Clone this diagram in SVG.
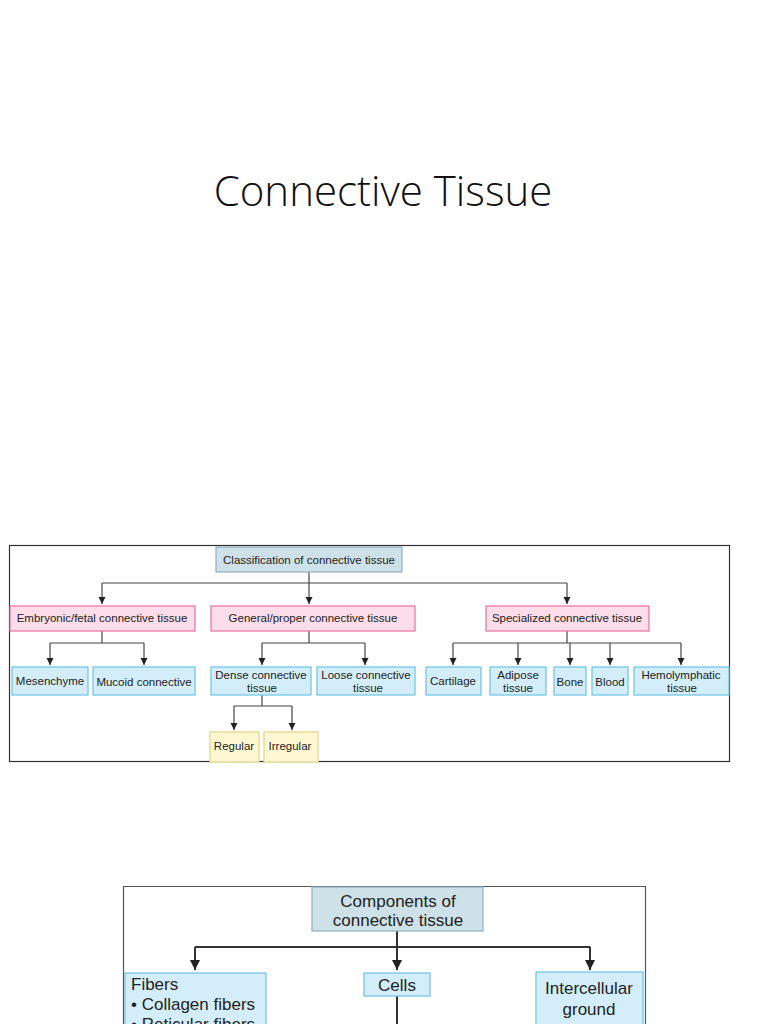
<svg xmlns="http://www.w3.org/2000/svg" width="768" height="1024" viewBox="0 0 768 1024">
<style>
text{font-family:"Liberation Sans",Arial,sans-serif;fill:#222;text-anchor:middle}
.s{font-size:11.5px}
.b{font-size:17px}
.root{fill:#cfe1e8;stroke:#8fb0bd;stroke-width:1.2}
.pink{fill:#fcdde9;stroke:#e6729f;stroke-width:1.2}
.blue{fill:#d3eefa;stroke:#6cc4e4;stroke-width:1.2}
.yel{fill:#fdf8d2;stroke:#e3d58a;stroke-width:1.2}
.ln{fill:none;stroke:#444;stroke-width:1.2}
.ln2{fill:none;stroke:#333;stroke-width:2}
</style>
<defs>
<marker id="a" viewBox="0 0 10 10" refX="10" refY="5" markerWidth="6" markerHeight="6" orient="auto"><path d="M0,0L10,5L0,10z" fill="#222"/></marker>
<marker id="a2" viewBox="0 0 10 10" refX="10" refY="5" markerWidth="5" markerHeight="5" orient="auto"><path d="M0,0L10,5L0,10z" fill="#222"/></marker>
</defs>
<rect width="768" height="1024" fill="#fff"/>
<text x="383" y="206" style="font-family:'Open Sans','Liberation Sans',sans-serif;font-weight:300;font-size:42px;fill:#111">Connective Tissue</text>

<rect x="9.5" y="545.5" width="720" height="216" fill="#fff" stroke="#333" stroke-width="1.2"/>
<g id="connectors1">
<path class="ln" d="M309,572V583M102,583H567"/>
<path class="ln" d="M102,583V604" marker-end="url(#a)"/>
<path class="ln" d="M309,583V604" marker-end="url(#a)"/>
<path class="ln" d="M567,583V604" marker-end="url(#a)"/>
<path class="ln" d="M102,631V643M50,643H144M309,631V643M262,643H365M567,631V643M453,643H681M262,695V706M234,706H292"/>
<path class="ln" d="M50,643V665" marker-end="url(#a)"/>
<path class="ln" d="M144,643V665" marker-end="url(#a)"/>
<path class="ln" d="M262,643V665" marker-end="url(#a)"/>
<path class="ln" d="M365,643V665" marker-end="url(#a)"/>
<path class="ln" d="M453,643V665" marker-end="url(#a)"/>
<path class="ln" d="M518,643V665" marker-end="url(#a)"/>
<path class="ln" d="M570,643V665" marker-end="url(#a)"/>
<path class="ln" d="M610,643V665" marker-end="url(#a)"/>
<path class="ln" d="M681,643V665" marker-end="url(#a)"/>
<path class="ln" d="M234,706V730" marker-end="url(#a)"/>
<path class="ln" d="M292,706V730" marker-end="url(#a)"/>
</g>
<g id="classification"><rect class="root" x="216" y="547" width="186" height="25"/><text class="s" x="309" y="564">Classification of connective tissue</text></g>
<g id="embryonic"><rect class="pink" x="10" y="606" width="185" height="25"/><text class="s" x="102" y="622">Embryonic/fetal connective tissue</text></g>
<g id="general"><rect class="pink" x="211" y="606" width="204" height="25"/><text class="s" x="313" y="622">General/proper connective tissue</text></g>
<g id="specialized"><rect class="pink" x="486" y="606" width="163" height="25"/><text class="s" x="567" y="622">Specialized connective tissue</text></g>
<g id="mesenchyme"><rect class="blue" x="12" y="667" width="76" height="28"/><text class="s" x="50" y="685">Mesenchyme</text></g>
<g id="mucoid"><rect class="blue" x="93" y="667" width="102" height="28"/><text class="s" x="144" y="686">Mucoid connective</text></g>
<g id="dense"><rect class="blue" x="211" y="667" width="100" height="28"/><text class="s" x="261" y="679">Dense connective</text><text class="s" x="262" y="692">tissue</text></g>
<g id="loose"><rect class="blue" x="317" y="667" width="98" height="28"/><text class="s" x="366" y="679">Loose connective</text><text class="s" x="368" y="692">tissue</text></g>
<g id="cartilage"><rect class="blue" x="426" y="667" width="55" height="28"/><text class="s" x="453" y="685">Cartilage</text></g>
<g id="adipose"><rect class="blue" x="490" y="667" width="56" height="28"/><text class="s" x="518" y="679">Adipose</text><text class="s" x="518" y="692">tissue</text></g>
<g id="bone"><rect class="blue" x="554" y="667" width="32" height="28"/><text class="s" x="570" y="686">Bone</text></g>
<g id="blood"><rect class="blue" x="592" y="667" width="36" height="28"/><text class="s" x="610" y="686">Blood</text></g>
<g id="hemolymphatic"><rect class="blue" x="634" y="667" width="95" height="28"/><text class="s" x="681" y="679">Hemolymphatic</text><text class="s" x="682" y="692">tissue</text></g>
<g id="regular"><rect class="yel" x="210" y="732" width="49" height="30"/><text class="s" x="234" y="750">Regular</text></g>
<g id="irregular"><rect class="yel" x="264" y="732" width="54" height="30"/><text class="s" x="290" y="750">Irregular</text></g>

<path d="M123.5,1030V886.5H645.5V1030" fill="#fff" stroke="#555" stroke-width="1.2"/>
<g id="connectors2">
<path class="ln2" d="M397,931V947M195,947H590M397,996V1030"/>
<path class="ln2" d="M195,947V970" marker-end="url(#a2)"/>
<path class="ln2" d="M397,947V970" marker-end="url(#a2)"/>
<path class="ln2" d="M590,947V970" marker-end="url(#a2)"/>
</g>
<g id="components"><rect class="root" x="312" y="887" width="171" height="44"/><text class="b" x="398" y="907">Components of</text><text class="b" x="398" y="926">connective tissue</text></g>
<g id="fibers"><rect class="blue" x="125" y="973" width="141" height="60"/>
<text class="b" x="131" y="990" style="text-anchor:start">Fibers</text>
<text class="b" x="131" y="1010" style="text-anchor:start">• Collagen fibers</text>
<text class="b" x="131" y="1030" style="text-anchor:start">• Reticular fibers</text></g>
<g id="cells"><rect class="blue" x="364" y="973" width="66" height="23"/><text class="b" x="397" y="991">Cells</text></g>
<g id="intercellular"><rect class="blue" x="536" y="972" width="107" height="60"/><text class="b" x="589" y="994">Intercellular</text><text class="b" x="589" y="1015">ground</text><text class="b" x="589" y="1036">substance</text></g>
</svg>
